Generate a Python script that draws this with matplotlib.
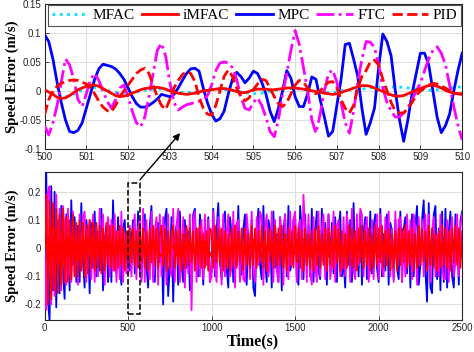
import numpy as np
import matplotlib
matplotlib.use("Agg")
import matplotlib.pyplot as plt
from matplotlib.patches import Rectangle, FancyArrowPatch

# ---------------- data: zoomed window 500-510 s (0.1 s step) ----------------
t_zoom_start, t_zoom_end = 500, 510
mpc_zoom = [0.097, 0.085, 0.055, 0.015, -0.02, -0.05, -0.07, -0.072, -0.068, -0.055,
            -0.03, -0.005, 0.02, 0.038, 0.046, 0.044, 0.042, 0.038, 0.03, 0.02,
            0.005, -0.01, -0.022, -0.028, -0.028, -0.025, -0.02, -0.014, -0.006, -0.008,
            -0.01, -0.006, 0.005, 0.018, 0.03, 0.038, 0.039, 0.034, 0.005, -0.02,
            -0.04, -0.052, -0.048, -0.035, -0.005, 0.02, 0.032, 0.025, 0.014, 0.022,
            0.034, 0.03, 0.015, -0.005, -0.035, -0.053, -0.03, 0.0, 0.035, 0.022,
            -0.01, -0.027, -0.027, -0.005, 0.024, 0.02, -0.015, -0.045, -0.078, -0.07,
            -0.025, 0.02, 0.08, 0.082, 0.055, 0.025, -0.03, -0.075, -0.055, -0.03,
            0.04, 0.098, 0.085, 0.06, 0.0, -0.05, -0.087, -0.05, -0.005, 0.03,
            0.065, 0.065, 0.045, 0.0, -0.045, -0.072, -0.06, -0.04, 0.0, 0.035, 0.065]
ftc_zoom = [-0.06, -0.076, -0.055, -0.025, 0.015, 0.055, 0.045, 0.02, -0.015, -0.027,
            -0.005, 0.02, 0.03, 0.018, 0.0, -0.018, -0.03, -0.015, 0.005, 0.01,
            -0.01, -0.035, -0.055, -0.062, -0.045, -0.01, 0.03, 0.07, 0.082, 0.06,
            0.015, -0.02, -0.033, -0.028, -0.024, -0.022, -0.02, -0.018, -0.015, -0.008,
            0.01, 0.035, 0.048, 0.05, 0.048, 0.04, 0.02, -0.01, -0.03, -0.033,
            -0.02, -0.012, -0.025, -0.045, -0.07, -0.079, -0.05, -0.005, 0.03, 0.07,
            0.104, 0.08, 0.04, 0.0, -0.05, -0.073, -0.04, 0.0, 0.03, 0.036,
            0.015, -0.02, -0.055, -0.073, -0.035, 0.015, 0.055, 0.085, 0.084, 0.075,
            0.045, 0.005, -0.02, -0.035, -0.045, -0.045, -0.038, -0.03, -0.015, 0.0,
            0.013, 0.035, 0.055, 0.07, 0.076, 0.065, 0.045, 0.01, -0.027, -0.06, -0.084]
pid_zoom = [-0.041, -0.015, 0.0, 0.008, 0.013, 0.016, 0.018, 0.019, 0.018, 0.015,
            0.012, 0.005, -0.005, -0.018, -0.028, -0.034, -0.036, -0.025, -0.01, 0.0,
            0.01, 0.02, 0.03, 0.036, 0.039, 0.03, 0.01, -0.01, -0.025, -0.032,
            -0.015, 0.005, 0.018, 0.028, 0.033, 0.03, 0.016, -0.01, -0.03, -0.04,
            -0.042, -0.025, 0.0, 0.025, 0.036, 0.025, 0.005, -0.01, -0.017, -0.012,
            0.002, 0.012, 0.02, 0.018, 0.005, -0.01, -0.022, -0.027, -0.02, -0.005,
            0.01, 0.018, 0.015, 0.005, -0.003, -0.005, 0.0, 0.008, 0.015, 0.016,
            0.005, -0.015, -0.03, -0.038, -0.025, 0.005, 0.025, 0.035, 0.05, 0.053,
            0.045, 0.02, 0.0, -0.02, -0.035, -0.038, -0.038, -0.03, -0.02, -0.008,
            0.0, 0.005, 0.01, 0.013, 0.012, 0.008, 0.005, 0.0, -0.004, -0.005, -0.005]
imfac_zoom = [0.002, -0.002, -0.006, -0.011, -0.013, -0.012, -0.008, -0.003, 0.002, 0.005,
              0.008, 0.01, 0.01, 0.008, 0.004, 0.0, -0.004, -0.008, -0.01, -0.009,
              -0.007, -0.004, -0.001, 0.002, 0.004, 0.005, 0.006, 0.006, 0.005, 0.003,
              0.0, -0.002, -0.004, -0.005, -0.006, -0.005, -0.004, -0.002, 0.0, 0.001,
              0.002, 0.003, 0.004, 0.004, 0.003, 0.001, -0.001, -0.003, -0.003, -0.001,
              0.002, 0.003, 0.003, 0.003, 0.002, 0.002, 0.003, 0.004, 0.005, 0.005,
              0.005, 0.004, 0.003, 0.002, 0.0, -0.001, -0.002, -0.004, -0.005, -0.006,
              -0.005, -0.003, 0.0, 0.002, 0.005, 0.007, 0.009, 0.009, 0.008, 0.005,
              0.002, -0.001, -0.004, -0.007, -0.009, -0.009, -0.008, -0.005, -0.002, 0.001,
              0.004, 0.007, 0.009, 0.01, 0.008, 0.005, 0.001, -0.002, -0.004, -0.005, -0.006]
mfac_zoom = [0.0, -0.004, -0.01, -0.009, -0.002, 0.004, 0.006, 0.003, -0.001, -0.004,
             -0.004, -0.002, 0.001, 0.003, 0.003, 0.001, -0.002, -0.003, -0.002, 0.0,
             0.002, 0.003, 0.002, 0.0, -0.003, -0.005, -0.004, -0.001, 0.002, 0.004,
             0.004, 0.002, 0.0, -0.002, -0.003, -0.002, 0.002, 0.001, 0.003, 0.005,
             0.006, 0.006, 0.007, 0.006, 0.004, 0.002, 0.001, 0.002, 0.003, 0.006, 0.007]

# ---------------- data: full run 0-2500 s (sampled every 10 s) ----------------
t_full_end = 2500
mpc_full = [0.0, 0.27, -0.18, -0.26, 0.22, -0.15, 0.2, -0.21, 0.1, -0.16,
            0.15, -0.08, -0.18, 0.12, 0.05, -0.15, 0.17, -0.06, 0.11, -0.12,
            0.08, -0.12, 0.16, -0.05, -0.14, 0.1, 0.04, -0.16, 0.09, -0.07,
            0.13, -0.1, 0.06, -0.08, 0.14, -0.15, 0.03, 0.08, -0.12, 0.05,
            -0.12, 0.17, -0.04, -0.09, 0.11, -0.06, -0.13, 0.07, 0.1, -0.05,
            0.06, -0.08, 0.03, 0.1, -0.09, -0.04, 0.13, -0.07, -0.11, 0.05,
            0.12, -0.06, -0.14, 0.08, 0.15, -0.1, -0.12, 0.06, 0.09, -0.05,
            0.05, -0.2, 0.1, 0.14, -0.17, -0.06, 0.11, -0.19, 0.04, 0.08,
            -0.13, 0.13, -0.05, -0.12, 0.1, -0.07, 0.06, -0.15, -0.09, 0.12,
            0.14, -0.06, -0.1, 0.12, 0.05, -0.13, 0.08, -0.04, 0.11, -0.12,
            -0.08, 0.14, -0.1, 0.06, 0.16, -0.05, -0.11, 0.09, 0.13, -0.07,
            -0.14, 0.11, 0.05, -0.12, 0.08, -0.06, 0.15, -0.1, -0.09, 0.07,
            0.12, -0.13, 0.06, -0.08, 0.1, -0.14, -0.17, 0.05, 0.14, -0.06,
            -0.11, 0.15, -0.05, -0.12, 0.1, 0.07, -0.14, 0.13, -0.07, 0.05,
            -0.12, 0.11, -0.15, 0.06, 0.12, -0.1, 0.15, -0.08, -0.05, 0.1,
            0.12, -0.1, -0.13, 0.15, 0.05, -0.11, 0.12, -0.06, 0.08, -0.1,
            0.14, -0.12, 0.06, 0.13, -0.08, -0.11, 0.14, -0.05, 0.09, -0.13,
            0.12, -0.06, 0.09, -0.09, 0.11, -0.12, 0.06, 0.13, -0.1, -0.05,
            -0.14, 0.13, -0.06, 0.1, -0.12, 0.16, -0.08, 0.07, -0.1, 0.12,
            -0.13, 0.06, 0.11, -0.11, -0.05, 0.13, -0.09, 0.08, 0.12, -0.07,
            -0.12, 0.14, -0.1, 0.05, -0.08, 0.12, -0.13, 0.09, 0.06, -0.11,
            0.1, -0.07, -0.11, 0.13, -0.12, 0.07, 0.11, -0.09, 0.06, -0.14,
            0.12, -0.1, 0.08, 0.15, -0.13, -0.06, 0.1, 0.17, -0.08, -0.19,
            0.16, -0.14, -0.16, 0.12, 0.15, -0.11, 0.07, -0.15, 0.13, -0.12,
            0.14, -0.14, 0.06, 0.13, -0.1, -0.14, 0.12, 0.05, -0.13, 0.1,
            0.13]
ftc_full = [0.0, -0.22, 0.2, 0.22, -0.2, 0.12, -0.17, 0.19, -0.1, 0.14,
            -0.15, 0.15, 0.07, -0.13, 0.14, -0.08, -0.12, 0.13, -0.1, 0.06,
            -0.13, 0.12, -0.06, 0.11, 0.13, -0.12, 0.05, 0.1, -0.11, 0.12,
            -0.12, 0.08, -0.1, 0.14, -0.06, 0.12, -0.13, 0.04, 0.11, -0.1,
            0.1, -0.08, 0.12, -0.12, 0.06, -0.11, 0.13, -0.12, 0.05, -0.09,
            -0.09, 0.08, -0.1, 0.04, 0.12, -0.11, 0.07, 0.1, -0.12, 0.14,
            -0.12, 0.1, -0.06, -0.11, 0.13, -0.12, 0.06, 0.11, -0.13, 0.12,
            -0.1, 0.11, 0.05, -0.13, 0.12, -0.07, -0.1, 0.14, -0.12, 0.08,
            0.14, -0.12, -0.05, 0.11, -0.14, 0.07, -0.09, 0.12, -0.22, 0.1,
            0.13, -0.12, 0.07, -0.1, 0.1, -0.11, 0.12, -0.06, 0.1, -0.12,
            -0.1, 0.13, -0.07, -0.12, 0.11, 0.06, -0.13, 0.12, -0.1, 0.05,
            0.12, -0.1, -0.07, 0.13, -0.14, 0.09, 0.1, -0.12, 0.06, -0.11,
            -0.12, 0.12, 0.05, -0.11, 0.13, -0.08, -0.12, 0.11, -0.06, 0.13,
            0.11, -0.13, 0.07, 0.12, -0.1, -0.05, 0.13, -0.12, 0.1, -0.08,
            -0.12, 0.11, 0.06, -0.13, 0.12, -0.07, -0.11, 0.13, -0.06, 0.1,
            0.13, -0.12, 0.08, 0.1, -0.11, 0.19, 0.06, -0.12, 0.12, -0.09,
            -0.13, 0.11, -0.06, -0.12, 0.13, -0.1, 0.07, 0.12, -0.11, 0.05,
            0.12, -0.11, -0.06, 0.13, -0.12, 0.08, 0.1, -0.1, -0.07, 0.11,
            -0.1, 0.12, 0.06, -0.12, 0.14, -0.08, -0.11, 0.12, -0.06, 0.14,
            0.12, -0.1, 0.06, 0.11, -0.12, -0.07, 0.1, -0.11, 0.05, 0.12,
            -0.11, 0.12, -0.07, -0.1, 0.11, -0.06, 0.13, -0.1, 0.07, -0.12,
            0.13, -0.08, 0.1, 0.11, -0.12, 0.06, -0.1, 0.12, -0.05, 0.1,
            -0.11, 0.12, 0.07, -0.13, 0.11, -0.06, 0.1, -0.1, 0.12, -0.07,
            0.12, -0.12, 0.06, 0.11, -0.1, 0.05, -0.1, 0.12, -0.06, -0.11,
            -0.11, 0.1, -0.12, 0.06, 0.11, -0.1, -0.05, 0.12, -0.1, 0.08,
            0.12]
pid_full = [0.0, 0.19, -0.2, 0.17, -0.18, 0.16, -0.15, 0.14, -0.16, 0.12,
            -0.13, 0.14, -0.12, 0.11, -0.12, 0.1, -0.11, 0.12, -0.1, 0.09,
            -0.1, 0.1, -0.08, 0.09, -0.1, 0.08, -0.09, 0.1, -0.07, 0.09,
            -0.08, 0.09, -0.07, 0.08, -0.09, 0.07, -0.08, 0.09, -0.06, 0.08,
            -0.07, 0.08, -0.08, 0.06, -0.07, 0.08, -0.06, 0.07, -0.08, 0.06,
            -0.06, 0.07, -0.05, 0.07, -0.06, 0.06, -0.07, 0.08, -0.05, 0.07,
            -0.07, 0.06, -0.08, 0.07, -0.05, 0.08, -0.06, 0.07, -0.07, 0.05,
            0.08, -0.06, 0.07, -0.08, 0.06, -0.07, 0.05, 0.08, -0.07, 0.06,
            -0.06, 0.07, -0.08, 0.05, -0.07, 0.08, -0.06, 0.07, -0.05, 0.06,
            -0.08, 0.07, -0.06, 0.08, -0.07, 0.05, -0.07, 0.06, -0.08, 0.07,
            0.06, -0.07, 0.08, -0.05, 0.07, -0.06, 0.07, -0.08, 0.06, -0.07,
            0.05, -0.08, 0.07, -0.06, 0.08, -0.07, 0.06, -0.05, 0.07, -0.08,
            0.07, -0.06, 0.05, -0.07, 0.08, -0.06, 0.07, -0.07, 0.06, -0.05,
            0.08, -0.07, 0.06, -0.08, 0.07, -0.05, 0.06, -0.07, 0.08, -0.06,
            0.07, -0.06, 0.08, -0.07, 0.05, -0.08, 0.07, -0.06, 0.06, -0.07,
            0.08, -0.05, 0.07, -0.07, 0.06, -0.08, 0.07, -0.06, 0.05, -0.07,
            0.06, -0.08, 0.07, -0.06, 0.08, -0.07, 0.05, -0.06, 0.07, -0.08,
            0.07, -0.06, 0.06, -0.07, 0.08, -0.05, 0.07, -0.08, 0.06, -0.07,
            0.05, -0.07, 0.08, -0.06, 0.07, -0.07, 0.06, -0.08, 0.07, -0.05,
            0.08, -0.07, 0.06, -0.06, 0.07, -0.08, 0.05, -0.07, 0.08, -0.06,
            0.07, -0.05, 0.08, -0.07, 0.06, -0.06, 0.07, -0.08, 0.05, -0.07,
            0.06, -0.08, 0.07, -0.06, 0.07, -0.05, 0.08, -0.07, 0.06, -0.06,
            0.07, -0.08, 0.05, -0.07, 0.08, -0.06, 0.07, -0.05, 0.06, -0.08,
            0.08, -0.06, 0.07, -0.07, 0.05, -0.08, 0.06, -0.07, 0.08, -0.06,
            0.07, -0.07, 0.06, -0.08, 0.07, -0.05, 0.08, -0.06, 0.07, -0.07,
            0.06]
imfac_full = [0.0, 0.08, -0.07, 0.05, -0.05, 0.04, -0.04, 0.03, -0.03, 0.03,
              -0.03, 0.03, -0.02, 0.03, -0.03, 0.02, -0.03, 0.03, -0.02, 0.03,
              -0.03, 0.02, -0.03, 0.03, -0.02, 0.03, -0.03, 0.02, -0.03, 0.03,
              -0.02, 0.03, -0.03, 0.02, -0.03, 0.03, -0.02, 0.03, -0.03, 0.02,
              -0.03, 0.03, -0.02, 0.03, -0.03, 0.02, -0.03, 0.03, -0.02, 0.03, -0.03]
mfac_full = [0.0, 0.06, -0.06, 0.04, -0.04, 0.03, -0.03, 0.03, -0.02, 0.02,
             -0.02, 0.02, -0.02, 0.02, -0.02, 0.02, -0.02, 0.02, -0.02, 0.02,
             -0.02, 0.02, -0.02, 0.02, -0.02, 0.02, -0.02, 0.02, -0.02, 0.02,
             -0.02, 0.02, -0.02, 0.02, -0.02, 0.02, -0.02, 0.02, -0.02, 0.02,
             -0.02, 0.02, -0.02, 0.02, -0.02, 0.02, -0.02, 0.02, -0.02, 0.02, -0.02]

labels = ["MFAC", "iMFAC", "MPC", "FTC", "PID"]
top_yticks = [-0.1, -0.05, 0, 0.05, 0.1, 0.15]
top_yticklabels = ["-0.1", "-0.05", "0", "0.05", "0.1", "0.15"]
top_xticks = list(range(500, 511))
bot_yticks = [-0.2, -0.1, 0, 0.1, 0.2]
bot_yticklabels = ["-0.2", "-0.1", "0", "0.1", "0.2"]
bot_xticks = [0, 500, 1000, 1500, 2000, 2500]

# ---------------- styling ----------------
colors = {"MFAC": "#00E5FF", "iMFAC": "#FF0000", "MPC": "#0000FF", "FTC": "#FF00FF", "PID": "#FF0000"}
styles = {"MFAC": ":", "iMFAC": "-", "MPC": "-", "FTC": "-.", "PID": "--"}
zorders = {"MFAC": 2, "iMFAC": 6, "MPC": 3, "FTC": 4, "PID": 5}

plt.rcParams["font.family"] = ["Liberation Sans", "DejaVu Sans"]
fig = plt.figure(figsize=(4.74, 3.52), dpi=100)
ax1 = fig.add_axes([0.094, 0.577, 0.881, 0.412])
ax2 = fig.add_axes([0.094, 0.091, 0.881, 0.420])

def tx(vals, start, end):
    return np.linspace(start, end, len(vals))

zoom_series = {"MFAC": mfac_zoom, "iMFAC": imfac_zoom, "MPC": mpc_zoom, "FTC": ftc_zoom, "PID": pid_zoom}
handles = []
for name in labels:
    v = zoom_series[name]
    h, = ax1.plot(tx(v, t_zoom_start, t_zoom_end), v, color=colors[name], ls=styles[name],
                  lw=2, zorder=zorders[name], label=name)
    handles.append(h)

full_series = {"MFAC": mfac_full, "iMFAC": imfac_full, "MPC": mpc_full, "FTC": ftc_full, "PID": pid_full}
for name in labels:
    v = full_series[name]
    ax2.plot(tx(v, 0, t_full_end), v, color=colors[name], ls="-",
             lw=1.3, zorder=zorders[name])

for ax in (ax1, ax2):
    ax.grid(True, color="#DDDDDD", lw=0.7)
    ax.set_axisbelow(True)
    ax.tick_params(direction="in", length=3, labelsize=7, colors="#262626", width=0.6, pad=2.5)
    for s in ax.spines.values():
        s.set_color("#262626")
        s.set_linewidth(0.8)

ax1.set_xlim(500, 510)
ax1.set_ylim(-0.1, 0.15)
ax1.set_xticks(top_xticks)
ax1.set_yticks(top_yticks)
ax1.set_yticklabels(top_yticklabels)

ax2.set_xlim(0, 2500)
ax2.set_ylim(-0.255, 0.27)
ax2.set_xticks(bot_xticks)
ax2.set_yticks(bot_yticks)
ax2.set_yticklabels(bot_yticklabels)

lab_font = dict(family=["Liberation Serif", "DejaVu Serif"], weight="bold", size=10.5)
ax1.set_ylabel("Speed Error (m/s)", fontdict=lab_font)
ax2.set_ylabel("Speed Error (m/s)", fontdict=lab_font)
ax1.yaxis.set_label_coords(-0.062, 0.5)
ax2.yaxis.set_label_coords(-0.062, 0.5)
ax2.set_xlabel("Time(s)", fontdict=dict(family=["Liberation Serif", "DejaVu Serif"], weight="bold", size=11.5), labelpad=0)

leg = ax1.legend(handles=handles, loc="upper left", bbox_to_anchor=(0.008, 0.995, 0.99, 0.0),
                 mode="expand", ncol=5, frameon=True, fancybox=False, handlelength=2.4,
                 handletextpad=0.3, columnspacing=0.6, borderpad=0.25, borderaxespad=0,
                 prop={"family": ["Liberation Serif", "DejaVu Serif"], "size": 11})
leg.get_frame().set_edgecolor("#262626")
leg.get_frame().set_linewidth(0.8)
leg.set_zorder(10)

# dashed rectangle marking the zoomed window
rect = Rectangle((502, -0.234), 70, 0.467, fill=False, ls="--", lw=1.1, ec="black", zorder=8, clip_on=False)
ax2.add_patch(rect)

# arrow from rectangle to zoomed panel
arrow = FancyArrowPatch((138 / 474, 1 - 182 / 352), (182 / 474, 1 - 131 / 352),
                        transform=fig.transFigure, arrowstyle="-|>", mutation_scale=10,
                        color="black", lw=1.0, zorder=20)
fig.add_artist(arrow)

fig.savefig("out.png", dpi=100)
